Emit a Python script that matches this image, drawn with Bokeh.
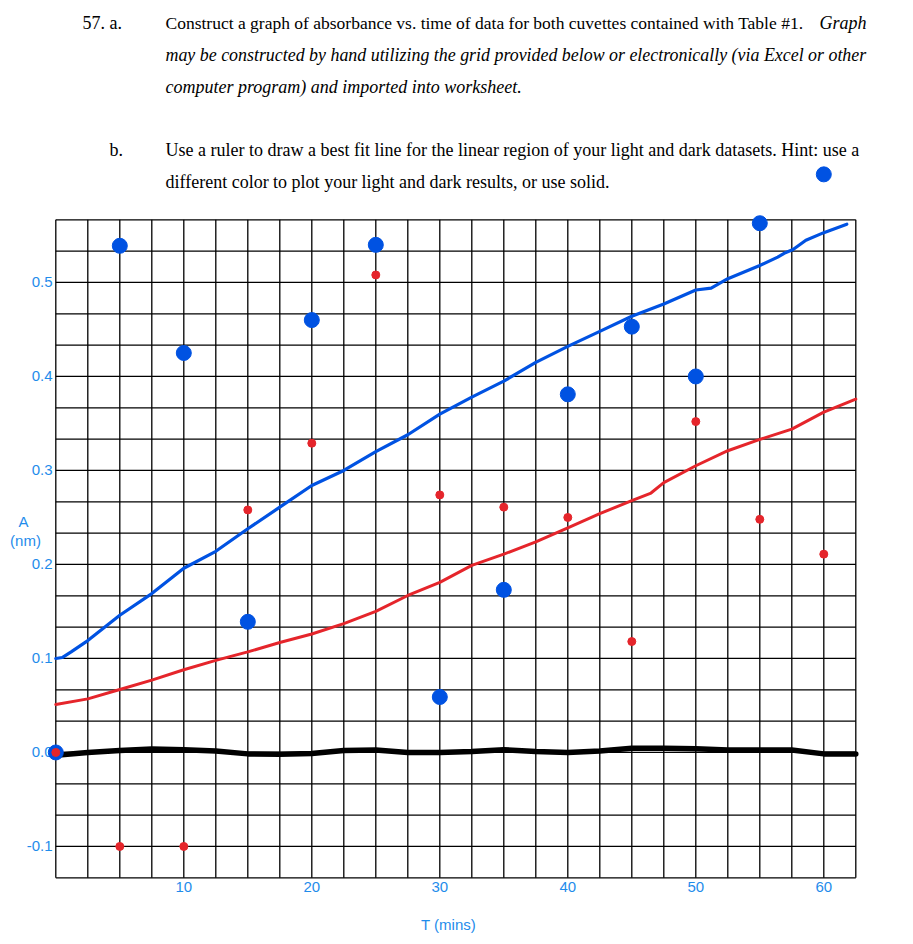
import numpy as np
from bokeh.plotting import figure
from bokeh.models import Range1d, FixedTicker, NumeralTickFormatter, Label
from bokeh.embed import file_html
from bokeh.resources import INLINE

# ---------------- data ----------------
sample_times = [0, 5, 10, 15, 20, 25, 30, 35, 40, 45, 50, 55, 60]
light_abs = [0.0, 0.539, 0.425, 0.139, 0.460, 0.540, 0.059, 0.173, 0.381, 0.453, 0.400, 0.563, 0.615]
dark_abs = [0.0, -0.100, -0.100, 0.258, 0.329, 0.508, 0.274, 0.261, 0.250, 0.118, 0.352, 0.248, 0.211]

light_fit_t = [0, 0.5, 1.2, 2.5, 5, 7.5, 10, 12.5, 15, 17.5, 20, 22.5, 25, 27.5, 30,
               32.5, 35, 37.5, 40, 42.5, 45, 47.5, 50, 51.2, 52.5, 55, 56.4, 56.9,
               57.6, 58.6, 60, 61.8]
light_fit_a = [0.100, 0.101, 0.107, 0.119, 0.146, 0.169, 0.196, 0.214, 0.238, 0.261, 0.284,
               0.300, 0.320, 0.338, 0.360, 0.378, 0.395, 0.415, 0.432, 0.448, 0.464, 0.477,
               0.492, 0.494, 0.504, 0.518, 0.527, 0.531, 0.535, 0.545, 0.553, 0.562]

dark_fit_t = [0, 2.5, 5, 7.5, 10, 12.5, 15, 17.5, 20, 22.5, 25, 27.5, 30, 32.5, 35, 37.5,
              40, 42.5, 45, 46.5, 47.5, 50, 52.5, 55, 57.5, 60, 62.5]
dark_fit_a = [0.051, 0.057, 0.067, 0.077, 0.088, 0.098, 0.107, 0.117, 0.126, 0.137, 0.150,
              0.167, 0.181, 0.199, 0.211, 0.224, 0.239, 0.254, 0.268, 0.276, 0.287, 0.305,
              0.321, 0.333, 0.344, 0.362, 0.376]

baseline_t = [0, 2.5, 5, 7.5, 10, 12.5, 15, 17.5, 20, 22.5, 25, 27.5, 30, 32.5, 35, 37.5,
              40, 42.5, 45, 47.5, 50, 52.5, 55, 57.5, 60, 62.5]
baseline_a = [-0.003, 0.0, 0.002, 0.0037, 0.003, 0.0015, -0.0015, -0.002, -0.001, 0.002,
              0.0026, 0.0, 0.0, 0.001, 0.003, 0.001, 0.0, 0.0015, 0.0044, 0.0044, 0.004,
              0.0026, 0.0026, 0.0026, -0.0015, -0.0015]

x_ticks = [10, 20, 30, 40, 50, 60]
y_ticks = [-0.1, 0.0, 0.1, 0.2, 0.3, 0.4, 0.5]

# ---------------- layout ----------------
BLUE = "#0052e2"
RED = "#e5252b"
LABEL_BLUE = "#1f8ceb"

W, H = 905, 940
PX_MIN = 12.8          # pixels per minute
PX_A = 940.0           # pixels per absorbance unit
T0_PAGE = 55.3         # page x of t = 0
YB_PAGE = 877.3        # page y of the grid bottom
GRID_BOTTOM = -0.1 - 1 / 30
GRID_TOP = GRID_BOTTOM + 0.7
GRID_RIGHT = 62.5
FRAME_L, FRAME_R, FRAME_B = 4, 892, 880


def X(px):
    return (px - T0_PAGE) / PX_MIN


def Y(py):
    return GRID_BOTTOM + (YB_PAGE - py) / PX_A


p = figure(width=W, height=H, output_backend="svg", toolbar_location=None,
           x_range=Range1d(X(FRAME_L), X(FRAME_R)), y_range=Range1d(Y(FRAME_B), Y(0)),
           min_border_left=FRAME_L, min_border_right=W - FRAME_R, min_border_top=0,
           min_border_bottom=H - FRAME_B)
p.xgrid.visible = False
p.ygrid.visible = False
p.outline_line_color = None
p.background_fill_color = "white"
p.border_fill_color = "white"

for ax in (p.xaxis[0], p.yaxis[0]):
    ax.axis_line_color = None
    ax.major_tick_line_color = None
    ax.minor_tick_line_color = None
    ax.major_label_text_font = "Liberation Sans"
    ax.major_label_text_font_size = "15px"
    ax.major_label_text_color = LABEL_BLUE

p.xaxis.ticker = FixedTicker(ticks=x_ticks)
p.yaxis.ticker = FixedTicker(ticks=y_ticks)
p.yaxis.formatter = NumeralTickFormatter(format="0.0")
p.xaxis.major_label_standoff = -5
p.yaxis.major_label_standoff = -54
p.xaxis.axis_label = "T (mins)"
p.xaxis.axis_label_standoff = 21
p.xaxis.axis_label_text_font = "Liberation Sans"
p.xaxis.axis_label_text_font_size = "15px"
p.xaxis.axis_label_text_font_style = "normal"
p.xaxis.axis_label_text_color = LABEL_BLUE

# grid paper
grid_t = np.arange(0, GRID_RIGHT + 0.01, 2.5)
grid_a = GRID_BOTTOM + np.arange(22) / 30
p.segment(x0=grid_t, y0=GRID_BOTTOM, x1=grid_t, y1=GRID_TOP, line_color="black", line_width=1.3)
p.segment(x0=0, y0=grid_a, x1=GRID_RIGHT, y1=grid_a, line_color="black", line_width=1.3)

# hand drawn best-fit lines
p.line(light_fit_t, light_fit_a, line_color=BLUE, line_width=3.2, line_cap="round", line_join="round")
p.line(dark_fit_t, dark_fit_a, line_color=RED, line_width=3.0, line_cap="round", line_join="round")
p.line(baseline_t, baseline_a, line_color="black", line_width=5.5, line_cap="round", line_join="round")

# data points
p.scatter(sample_times, light_abs, size=15, fill_color=BLUE, line_color=BLUE, level="overlay")
p.scatter(sample_times, dark_abs, size=8, fill_color=RED, line_color=RED, level="overlay")

# y-axis title
for txt, px, py in (("A", 23, 521), ("(nm)", 25, 540)):
    p.add_layout(Label(x=X(px), y=Y(py), text=txt, text_align="center", text_baseline="middle",
                       text_font="Liberation Sans", text_font_size="15px", text_color=LABEL_BLUE))

# worksheet text
SERIF = "Liberation Serif"
texts = [
    (82, 22, "57. a.", "normal", "left", "18px"),
    (165, 22, "Construct a graph of absorbance vs. time of data for both cuvettes contained with Table #1.", "normal", "left", "17.5px"),
    (866, 22, "Graph", "italic", "right", "18px"),
    (165, 54, "may be constructed by hand utilizing the grid provided below or electronically (via Excel or other", "italic", "left", "17.9px"),
    (165, 86, "computer program) and imported into worksheet.", "italic", "left", "18px"),
    (109, 149, "b.", "normal", "left", "18px"),
    (165, 149, "Use a ruler to draw a best fit line for the linear region of your light and dark datasets. Hint: use a", "normal", "left", "18px"),
    (165, 181, "different color to plot your light and dark results, or use solid.", "normal", "left", "18px"),
]
for px, py, txt, style, align, size in texts:
    p.add_layout(Label(x=X(px), y=Y(py), text=txt, text_align=align, text_baseline="middle",
                       text_font=SERIF, text_font_size=size, text_font_style=style,
                       text_color="black"))

open("out.html", "w").write(file_html(p, INLINE))
